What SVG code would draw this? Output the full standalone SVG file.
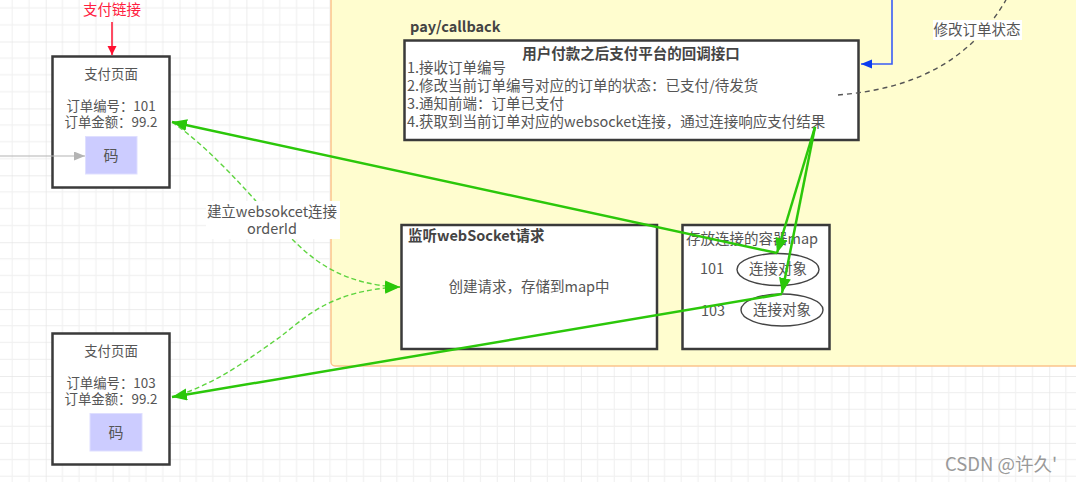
<svg xmlns="http://www.w3.org/2000/svg" width="1076" height="482" viewBox="0 0 1076 482">
<style>
text{font-family:"Noto Sans CJK SC","Noto Sans",sans-serif;fill:#555;font-size:14.5px}
.m{text-anchor:middle}
.s{font-size:13.4px}
.b{font-weight:700;fill:#444}
.box{fill:#fff;stroke:#3a3a3a;stroke-width:2.5}
.qr{fill:#ccccff;stroke:#dfdfff;stroke-width:1}
.c{fill:none}
.g{stroke:#2bc70a;stroke-width:2.5;fill:none}
.d{stroke:#5ed43f;stroke-width:1.4;stroke-dasharray:5 3;fill:none}
.lbl{fill:#fff}
.o{fill:#fff;stroke:#444;stroke-width:1.4}
</style>
<defs>
<pattern id="grid" width="66.9" height="66.9" patternUnits="userSpaceOnUse" x="45.7" y="41.5">
<path d="M16.7 0V66.9M33.4 0V66.9M50.2 0V66.9M0 16.7H66.9M0 33.4H66.9M0 50.2H66.9" stroke="#f1f1f1" stroke-width="1.2" fill="none"/>
<path d="M0 0V66.9M0 0H66.9" stroke="#e6e6e6" stroke-width="1.4" fill="none"/>
</pattern>
<marker id="ag" markerUnits="userSpaceOnUse" markerWidth="18" markerHeight="14" refX="15" refY="6" orient="auto"><path d="M0 0L15 6L0 12Z" fill="#2bc70a"/></marker>
<marker id="ar" markerUnits="userSpaceOnUse" markerWidth="12" markerHeight="12" refX="9" refY="4.5" orient="auto"><path d="M0 0L9 4.5L0 9Z" fill="#ff1030"/></marker>
<marker id="ab" markerUnits="userSpaceOnUse" markerWidth="14" markerHeight="12" refX="11" refY="4.5" orient="auto"><path d="M0 0L11 4.5L0 9Z" fill="#0a3cf0"/></marker>
<marker id="ay" markerUnits="userSpaceOnUse" markerWidth="14" markerHeight="12" refX="11" refY="4.5" orient="auto"><path d="M0 0L11 4.5L0 9Z" fill="#b4b4b4"/></marker>
</defs>
<rect width="1076" height="482" fill="#fff"/>
<rect width="1076" height="482" fill="url(#grid)"/>
<g id="panel"><rect x="331" y="-20" width="780" height="386" rx="4" fill="#fffdcf" stroke="#fcc48c" stroke-width="1.5"/></g>
<g id="page1"><rect class="box" x="52.5" y="56.5" width="117" height="131"/>
<text class="m s" x="111" y="79">支付页面</text><text class="m s" x="111" y="111">订单编号：101<tspan x="111" dy="16">订单金额：99.2</tspan></text></g>
<g id="qr1"><rect class="qr" x="85.5" y="136.5" width="51.5" height="37.5"/><text class="m" x="111" y="161" style="font-size:15px">码</text></g>
<g id="page2"><rect class="box" x="52.5" y="333.5" width="117" height="131"/>
<text class="m s" x="111" y="356">支付页面</text><text class="m s" x="111" y="388">订单编号：103<tspan x="111" dy="16">订单金额：99.2</tspan></text></g>
<g id="qr2"><rect class="qr" x="90" y="413.5" width="52" height="37.5"/><text class="m" x="116" y="438" style="font-size:15px">码</text></g>
<g id="callback"><text class="b" x="410" y="32">pay/callback</text>
<rect class="box" x="404.5" y="40.5" width="454" height="99.5"/>
<text class="m b" x="631" y="59">用户付款之后支付平台的回调接口</text>
<text x="407" y="73">1.接收订单编号<tspan x="407" dy="18">2.修改当前订单编号对应的订单的状态：已支付/待发货</tspan><tspan x="407" dy="17.5">3.通知前端：订单已支付</tspan><tspan x="407" dy="18">4.获取到当前订单对应的websocket连接，通过连接响应支付结果</tspan></text></g>
<g id="listen"><rect class="box" x="401.5" y="225" width="255.5" height="124"/>
<text class="b" x="408" y="241">监听webSocket请求</text><text class="m" x="529" y="292">创建请求，存储到map中</text></g>
<g id="map"><rect class="box" x="682.5" y="225" width="147" height="124"/>
<text class="m" x="752" y="244">存放连接的容器map</text><text class="m" x="712" y="274">101</text><text class="m" x="713" y="316">103</text></g>
<g id="obj1"><ellipse class="o" cx="778" cy="269.5" rx="41" ry="16"/><text class="m" x="778" y="274">连接对象</text></g>
<g id="obj2"><ellipse class="o" cx="782" cy="310" rx="41" ry="16"/><text class="m" x="782" y="315">连接对象</text></g>
<g id="connectors">
<path d="M112 22V55" stroke="#ff1030" stroke-width="1.5" fill="none" marker-end="url(#ar)"/>
<path d="M0 156H85" stroke="#b4b4b4" stroke-width="1.2" fill="none" marker-end="url(#ay)"/>
<path d="M892 0V64H861" stroke="#3a5cf5" stroke-width="1.6" fill="none" marker-end="url(#ab)"/>
<path class="c" d="M838 95C900 90 965 70 1006 0" stroke="#555" stroke-width="1.4" stroke-dasharray="5 4"/>
<path class="d" d="M172 122C205 145 235 178 255 200C270 220 285 232 293 240C315 262 345 285 400 287" marker-end="url(#ag)"/>
<path class="d" d="M172 397C215 385 250 358 280 337C305 318 330 290 400 287" marker-end="url(#ag)"/>
<path class="g" d="M777 253L172 122" marker-end="url(#ag)"/>
<path class="g" d="M782 294L172 397" marker-end="url(#ag)"/>
<path class="g" d="M815 127L777 253" marker-end="url(#ag)"/>
<path class="g" d="M815 127L782 293" marker-end="url(#ag)"/>
</g>
<g id="labels">
<text class="m" x="112" y="15" style="fill:#ff2040">支付链接</text>
<rect class="lbl" x="206" y="201" width="134" height="38"/>
<text class="m" x="272" y="217">建立websokcet连接<tspan x="272" dy="17">orderId</tspan></text>
<rect class="lbl" x="933" y="20" width="89" height="20"/>
<text class="m" x="977" y="35">修改订单状态</text>
<text x="945" y="471" style="font-size:18.5px;fill:#999">CSDN @许久'</text>
</g>
</svg>
